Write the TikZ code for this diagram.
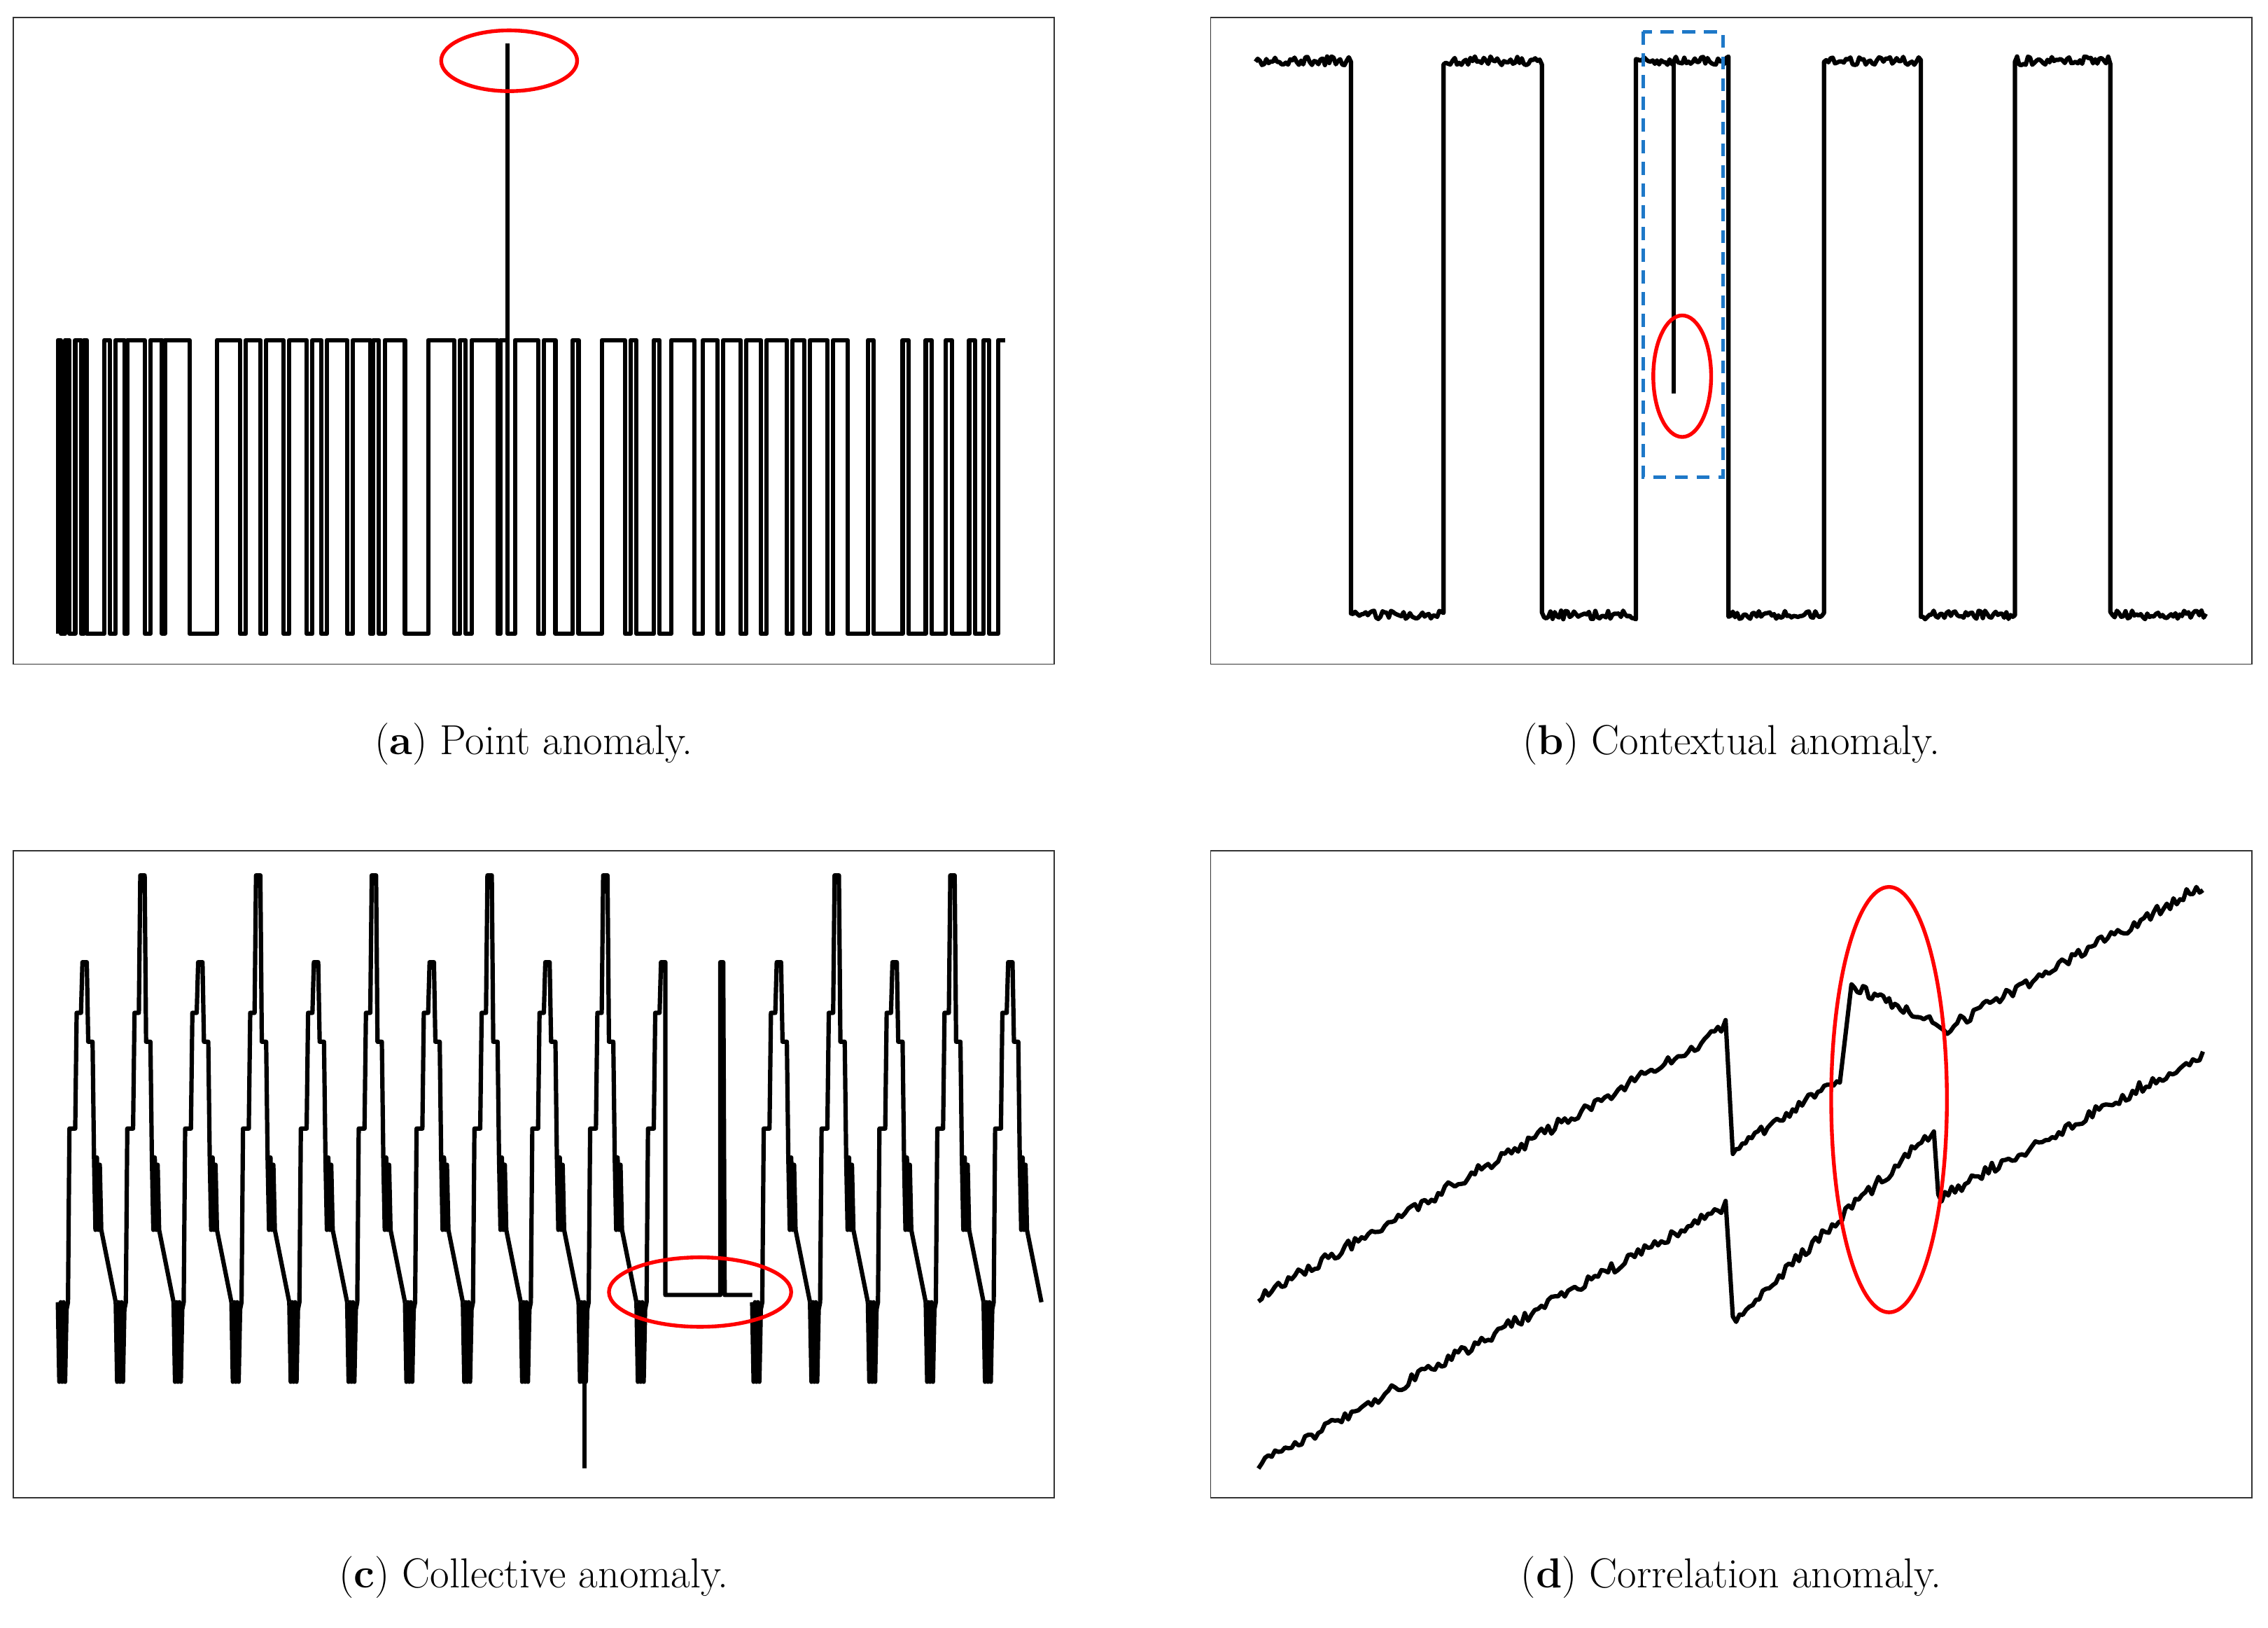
\documentclass[tikz,border=0pt]{standalone}
\begin{document}
\begin{tikzpicture}[x=1pt,y=-1pt,
  sig/.style={line width=3pt,line join=round,black},
  frame/.style={draw=black!80,line width=0.9pt},
  redell/.style={draw=red,line width=2.6pt},
  captext/.style={font=\fontsize{29}{34}\selectfont,anchor=center}]
\pgfmathsetseed{7}
\useasboundingbox (0,0) rectangle (1568,1125);
% frames
\draw[frame] (9,12) rectangle (729,459);
\draw[frame] (837,12) rectangle (1557,459);
\draw[frame] (9,588) rectangle (729,1035);
\draw[frame] (837,588) rectangle (1557,1035);
% (a)
\def\T{235}\def\B{438}
\draw[sig] (40,\B) |- (42,\T) |- (45,\B) |- (48,\T) |- (52,\B) |- (56,\T) |- (58,\B) |- (60,\T) |- (72,\B) |- (76,\T) |- (80,\B) |- (86,\T) |- (88,\B) |- (100,\T) |- (104,\B) |- (112,\T) |- (114,\B) |- (131,\T) |- (150,\B) |- (166,\T) |- (170,\B) |- (180,\T) |- (184,\B) |- (196,\T) |- (200,\B) |- (212,\T) |- (216,\B) |- (222,\T) |- (226,\B) |- (240,\T) |- (244,\B) |- (256,\T) |- (258,\B) |- (262,\T) |- (266,\B) |- (280,\T) |- (296,\B) |- (314,\T) |- (318,\B) |- (322,\T) |- (326,\B) |- (344,\T) |- (346,\B) |- (351,\T) |- (356,\B) |- (372,\T) |- (376,\B) |- (384,\T) |- (396,\B) |- (400,\T) |- (416,\B) |- (432,\T) |- (436,\B) |- (440,\T) |- (452,\B) |- (456,\T) |- (464,\B) |- (480,\T) |- (486,\B) |- (496,\T) |- (500,\B) |- (512,\T) |- (516,\B) |- (526,\T) |- (530,\B) |- (544,\T) |- (548,\B) |- (556,\T) |- (560,\B) |- (572,\T) |- (576,\B) |- (586,\T) |- (600,\B) |- (604,\T) |- (624,\B) |- (628,\T) |- (640,\B) |- (644,\T) |- (654,\B) |- (658,\T) |- (670,\B) |- (674,\T) |- (680,\B) |- (684,\T) |- (690,\B) |- (692,\T) -- (695,\T);
\draw[sig] (351,\T) -- (351,30);
\draw[redell] (352,42) ellipse [x radius=47,y radius=21];
\node[captext] (ca) at (369,514) {(\textbf{a}) Point anomaly.};
% (b)
\def\H{42}\def\L{425}
\draw[sig] plot[domain=868:934,samples=45] (\x,{\H+3*rand})
 -- plot[domain=934:998,samples=45] (\x,{\L+3*rand})
 -- plot[domain=998:1066,samples=45] (\x,{\H+3*rand})
 -- plot[domain=1066:1131,samples=45] (\x,{\L+3*rand})
 -- plot[domain=1131:1195,samples=45] (\x,{\H+3*rand})
 -- plot[domain=1195:1261,samples=45] (\x,{\L+3*rand})
 -- plot[domain=1261:1328,samples=45] (\x,{\H+3*rand})
 -- plot[domain=1328:1393,samples=45] (\x,{\L+3*rand})
 -- plot[domain=1393:1459,samples=45] (\x,{\H+3*rand})
 -- plot[domain=1459:1525,samples=45] (\x,{\L+3*rand});
\draw[sig] (1157,\H) -- (1157,272);
\draw[draw={rgb,255:red,30;green,120;blue,200},line width=2.4pt,dash pattern=on 9pt off 6pt] (1136,22) rectangle (1191,330);
\draw[redell] (1163,260) ellipse [x radius=20,y radius=42];
\node[captext] (cb) at (1197,514) {(\textbf{b}) Contextual anomaly.};
% (c)
\foreach \k in {0,...,16}{
  \pgfmathsetmacro{\xo}{40+40*\k}
  \pgfmathsetmacro{\P}{ifthenelse(mod(\k,2)==0,665,605)}
  \ifnum\k=11\relax\else
  \ifnum\k=10
  \draw[sig,shift={(\xo,0)}] (0,900) -- (1,955) -- (2,900) -- (3,955) -- (4,900) -- (5,955) -- (6,905) -- (7,900) -- (8,780) -- (12,780) -- (13,700) -- (16,700) -- (17,665) -- (20,665) -- (20,895) -- (58,895) -- (58,665) -- (60,665) -- (61,895) -- (80,895);
  \else
  \draw[sig,shift={(\xo,0)}] (0,900) -- (1,955) -- (2,900) -- (3,955) -- (4,900) -- (5,955) -- (6,905) -- (7,900) -- (8,780) -- (12,780) -- (13,700) -- (16,700) -- (17,\P) -- (20,\P) -- (21,720) -- (24,720) -- (25,800) -- (26,850) -- (27,800) -- (28,850) -- (29,805) -- (30,850) -- (31,855) -- (34,870) -- (38,890) -- (40,900);
  \fi\fi
}
\draw[sig] (404,900) -- (404,1015);
\draw[redell] (484,893) ellipse [x radius=63,y radius=24];
\node[captext] (cc) at (369,1090) {(\textbf{c}) Collective anomaly.};
% (d)
\draw[sig] plot[domain=870:1190,samples=140] (\x,{897-(\x-870)/320*185+4*rand})
 -- (1193,705) -- plot[domain=1198:1272,samples=35] (\x,{795-(\x-1198)/74*50+4*rand})
 -- plot[domain=1280:1338,samples=30] (\x,{682+(\x-1280)/58*25+4*rand})
 -- plot[domain=1344:1523,samples=80] (\x,{712-(\x-1344)/179*100+4*rand});
\draw[sig] plot[domain=870:1190,samples=140] (\x,{1012-(\x-870)/320*177+4*rand})
 -- (1193,830) -- plot[domain=1198:1333,samples=60] (\x,{912-(\x-1198)/135*127+4*rand})
 -- (1337,782) -- plot[domain=1340:1523,samples=80] (\x,{828-(\x-1340)/183*100+4*rand});
\draw[redell] (1306,760) ellipse [x radius=40,y radius=147];
\node[captext] (cd) at (1197,1090) {(\textbf{d}) Correlation anomaly.};
\end{tikzpicture}
\end{document}
